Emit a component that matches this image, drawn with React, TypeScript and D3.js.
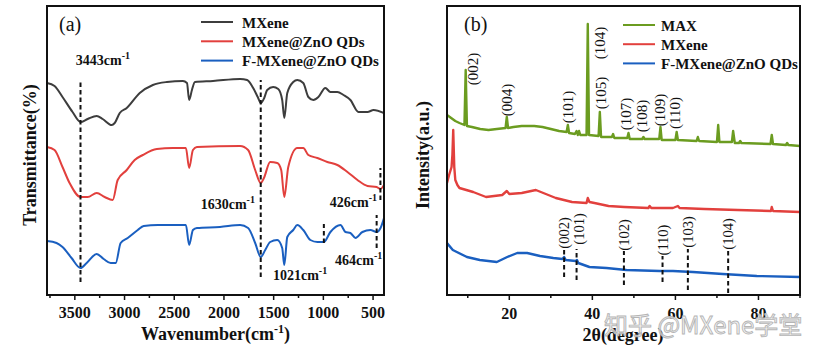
import React from 'react';
import * as d3 from 'd3';

type P = [number, number];

// ---------- Panel (a): FTIR (wavenumber cm-1, transmittance a.u.) ----------
const ftirMXene: P[] = [[3780,212],[3704,209],[3624,198],[3523,183],[3443,173],[3371,176],[3280,179],[3220,176],[3129,170],[3099,172],[3048,182],[2978,187],[2847,202],[2715,210],[2574,213],[2413,214],[2372,212],[2350,195],[2322,205],[2292,213],[2110,214],[1837,216],[1767,215],[1706,207],[1660,198],[1630,192],[1595,197],[1565,205],[1505,208],[1454,206],[1414,195],[1393,177],[1363,202],[1303,213],[1262,215],[1202,212],[1151,198],[1101,195],[1050,198],[980,207],[929,203],[859,203],[798,200],[728,195],[647,183],[556,183],[495,185],[390,182]];
const ftirMXeneZnO: P[] = [[3780,148],[3704,145],[3624,128],[3553,112],[3443,98],[3371,98],[3280,102],[3200,98],[3119,95],[3069,115],[2978,125],[2898,135],[2817,140],[2675,146],[2514,147],[2383,147],[2350,127],[2312,145],[2272,148],[1837,149],[1757,145],[1686,125],[1630,112],[1598,117],[1535,133],[1464,132],[1424,125],[1393,98],[1353,128],[1262,147],[1202,147],[1151,140],[1060,137],[960,133],[859,130],[758,123],[657,115],[556,109],[464,108],[426,106],[390,110]];
const ftirFMXeneZnO: P[] = [[3780,54],[3684,52],[3624,48],[3533,37],[3443,27],[3381,32],[3280,41],[3210,36],[3139,32],[3089,32],[3039,52],[2968,57],[2867,65],[2807,69],[2665,70],[2383,70],[2350,50],[2312,65],[2272,67],[2040,68],[1837,70],[1757,67],[1686,52],[1630,38],[1585,45],[1535,53],[1464,55],[1414,47],[1393,30],[1363,58],[1303,65],[1262,70],[1202,65],[1131,55],[1060,53],[995,53],[929,63],[828,70],[778,63],[728,62],[677,57],[607,63],[526,65],[464,63],[425,67],[390,77]];

const ftirNames = ['MXene', 'MXene@ZnO QDs', 'F-MXene@ZnO QDs'];
const ftirColors = ['#3d3d3d', '#e2403d', '#1a5fc0'];

// dashed markers: wavenumber, from, to (a.u.)
const ftirMarkX = [3443, 1630, 995, 464, 426];
const ftirMarkY0 = [13, 18, 52, 47, 95];
const ftirMarkY1 = [215, 215, 71, 80, 127];

// annotation labels
const ftirAnnNum = ['3443', '1630', '426', '1021', '464'];
const ftirAnnX = [3217, 1688, 460, 1507, 883];
const ftirAnnY = [230, 86, 88, 15, 30];
const ftirAnnAnchor = ['middle', 'end', 'end', 'start', 'start'];

const ftirMajor = [3500, 3000, 2500, 2000, 1500, 1000, 500];
const ftirMinor = [3750, 3250, 2750, 2250, 1750, 1250, 750];

// ---------- Panel (b): XRD (2θ degree, intensity a.u.) ----------
const xrdMAX: P[] = [[5,180],[6,177],[7,174],[8,172],[9.2,170],[9.5,225],[9.8,169],[11,168],[13,166],[15,165],[17,166],[19.1,167],[19.4,178],[19.7,167],[21,168],[23,169],[26,169],[28,168],[30,166],[32,164],[33.8,163],[34.1,170],[34.4,162],[35.8,161],[36.2,164],[36.5,160],[36.8,164],[37.1,160],[38.6,160],[38.9,271],[39.2,160],[41.5,159],[41.8,183],[42.1,158],[44.7,158],[45,161],[45.3,157],[48.4,157],[48.7,162],[49,156],[52,156],[52.3,158],[52.6,156],[56.1,156],[56.4,168],[56.7,155],[60,155],[60.3,163],[60.6,155],[65.1,154],[65.4,158],[65.7,154],[70,153],[70.3,170],[70.6,153],[73.6,153],[73.9,164],[74.3,152],[75.3,152],[75.6,154],[75.9,152],[82.9,151],[83.2,160],[83.5,151],[86.6,150],[86.9,152],[87.2,150],[90,149]];
const xrdMXene: P[] = [[5,112],[5.5,120],[6.1,128],[6.3,140],[6.5,165],[6.75,128],[7,115],[7.5,110],[8,107],[11.3,103],[14.4,98],[18.3,100],[19.4,104],[20,101],[23,102],[26.4,105],[28.8,101],[31.2,97],[35.1,93],[38.6,92],[38.9,97],[39.3,93],[40.5,92],[43.9,89],[47.7,88],[53.5,87],[53.8,89],[54.2,87],[59.4,87],[60.6,89],[61,87],[67,86],[75,85],[83,84],[83.2,88],[83.5,84],[90,83]];
const xrdFMXene: P[] = [[5,52],[6.4,45],[9.8,38],[12.9,35],[17,33],[19.5,38],[21.9,42],[24.3,42],[27.4,39],[30.6,37],[32.8,36],[33.2,38],[33.6,35],[36,34],[36.3,35],[36.6,32],[39.3,28],[43.4,27],[48.2,25],[56.2,24],[59.4,24],[64.2,23],[71.4,21],[79.6,19],[90,18]];

const xrdNames = ['MAX', 'MXene', 'F-MXene@ZnO QDs'];
const xrdColors = ['#6b9c20', '#e2403d', '#1a5fc0'];

// MAX peak labels
const maxLabels = ['(002)', '(004)', '(101)', '(104)', '(105)', '(107)', '(108)', '(109)', '(110)'];
const maxLabelX = [11.3, 19.4, 34.2, 41.8, 42.2, 48.0, 51.9, 56.2, 59.9];
const maxLabelY = [226, 195, 188, 252, 202, 181, 179, 185, 182];

// ZnO markers
const znoLabels = ['(002)', '(101)', '(102)', '(110)', '(103)', '(104)'];
const znoX = [33.2, 36.2, 47.6, 56.9, 63.0, 72.7];
const znoLabelX = [33.2, 36.7, 47.6, 56.9, 63.0, 72.7];
const znoLabelY = [62, 66, 60, 55, 63, 61];
const znoY0 = [18, 15, 10, 13, 5, 2];
const znoY1 = [47, 46, 44, 39, 46, 44];

const xrdMajor = [20, 40, 60, 80];
const xrdMinor = [10, 30, 50, 70, 90];

const SERIF = '"Liberation Serif", "Times New Roman", serif';

export default function App() {
  const top = 6, bottom = 295;
  const xA = d3.scaleLinear().domain([3780, 390]).range([47, 384]);
  const xB = d3.scaleLinear().domain([5, 90]).range([447, 800]);
  const y = d3.scaleLinear().domain([0, 289]).range([bottom, top]);

  const lineA = d3.line<P>().x(d => xA(d[0])).y(d => y(d[1])).curve(d3.curveMonotoneX);
  const lineB = d3.line<P>().x(d => xB(d[0])).y(d => y(d[1]));

  const ftirSeries = [ftirMXene, ftirMXeneZnO, ftirFMXeneZnO];
  const xrdSeries = [xrdMAX, xrdMXene, xrdFMXene];

  const dash = '4.5,3';

  return (
    <svg width={830} height={358} style={{ position: 'absolute', left: 0, top: 0, background: '#fff' }} fontFamily={SERIF}>
      <rect x={0} y={0} width={830} height={358} fill="#fff" />
      <defs>
        <clipPath id="clipA"><rect x={47} y={top} width={337} height={bottom - top} /></clipPath>
        <clipPath id="clipB"><rect x={447} y={top} width={353} height={bottom - top} /></clipPath>
      </defs>
      {/* ---------- Panel a ---------- */}
      <g clipPath="url(#clipA)">
        {ftirSeries.map((s, i) => (
          <path key={i} d={lineA(s) || ''} fill="none" stroke={ftirColors[i]} strokeWidth={2} strokeLinejoin="round" />
        ))}
      </g>
      {ftirMarkX.map((w, i) => (
        <line key={i} x1={xA(w)} x2={xA(w)} y1={y(ftirMarkY0[i])} y2={y(ftirMarkY1[i])} stroke="#111" strokeWidth={2} strokeDasharray={dash} />
      ))}
      {ftirAnnNum.map((t, i) => (
        <text key={i} x={xA(ftirAnnX[i])} y={y(ftirAnnY[i])} textAnchor={ftirAnnAnchor[i] as any} fontSize={14} fontWeight="bold" fill="#111">
          {t}cm<tspan fontSize={10} dy={-6}>-1</tspan>
        </text>
      ))}
      <rect x={47} y={top} width={337} height={bottom - top} fill="none" stroke="#111" strokeWidth={2} />
      {ftirMajor.map(v => (
        <g key={v}>
          <line x1={xA(v)} x2={xA(v)} y1={bottom} y2={bottom + 5} stroke="#111" strokeWidth={1.5} />
          <text x={xA(v)} y={318} textAnchor="middle" fontSize={16} fontWeight="bold" fill="#111">{v}</text>
        </g>
      ))}
      {ftirMinor.map(v => (
        <line key={v} x1={xA(v)} x2={xA(v)} y1={bottom} y2={bottom + 3} stroke="#111" strokeWidth={1.5} />
      ))}
      <text x={215.5} y={340} textAnchor="middle" fontSize={18} fontWeight="bold" fill="#111">
        Wavenumber(cm<tspan fontSize={12} dy={-7}>-1</tspan><tspan dy={7}>)</tspan>
      </text>
      <text transform="translate(36,155) rotate(-90)" textAnchor="middle" fontSize={18} fontWeight="bold" fill="#111">Transmittance(%)</text>
      <text x={59} y={31} fontSize={20} fill="#111">(a)</text>
      {ftirNames.map((n, i) => (
        <g key={n}>
          <line x1={201} x2={233} y1={22 + i * 19.3} y2={22 + i * 19.3} stroke={ftirColors[i]} strokeWidth={2} />
          <text x={242} y={27.5 + i * 19.3} fontSize={15} fontWeight="bold" fill="#111">{n}</text>
        </g>
      ))}

      {/* ---------- Panel b ---------- */}
      <g clipPath="url(#clipB)">
        {xrdSeries.map((s, i) => (
          <path key={i} d={lineB(s) || ''} fill="none" stroke={xrdColors[i]} strokeWidth={2.4} strokeLinejoin="round" />
        ))}
      </g>
      {maxLabels.map((t, i) => (
        <text key={i} transform={`translate(${xB(maxLabelX[i])},${y(maxLabelY[i])}) rotate(-90)`} textAnchor="middle" dominantBaseline="central" fontSize={15} fill="#111">{t}</text>
      ))}
      {znoX.map((v, i) => (
        <line key={i} x1={xB(v)} x2={xB(v)} y1={y(znoY0[i])} y2={y(znoY1[i])} stroke="#111" strokeWidth={2} strokeDasharray={dash} />
      ))}
      {znoLabels.map((t, i) => (
        <text key={i} transform={`translate(${xB(znoLabelX[i])},${y(znoLabelY[i])}) rotate(-90)`} textAnchor="middle" dominantBaseline="central" fontSize={14.5} fill="#111">{t}</text>
      ))}
      <rect x={447} y={top} width={353} height={bottom - top} fill="none" stroke="#111" strokeWidth={2} />
      {xrdMajor.map(v => (
        <g key={v}>
          <line x1={xB(v)} x2={xB(v)} y1={bottom} y2={bottom + 5} stroke="#111" strokeWidth={1.5} />
          <text x={xB(v)} y={319} textAnchor="middle" fontSize={16} fontWeight="bold" fill="#111">{v}</text>
        </g>
      ))}
      {xrdMinor.map(v => (
        <line key={v} x1={xB(v)} x2={xB(v)} y1={bottom} y2={bottom + 3} stroke="#111" strokeWidth={1.5} />
      ))}
      <text x={623} y={341} textAnchor="middle" fontSize={18} fontWeight="bold" fill="#111">2θ(degree)</text>
      <text transform="translate(429,155) rotate(-90)" textAnchor="middle" fontSize={18} fontWeight="bold" fill="#111">Intensity(a.u.)</text>
      <text x={464} y={31} fontSize={20} fill="#111">(b)</text>
      {xrdNames.map((n, i) => (
        <g key={n}>
          <line x1={623} x2={655} y1={25 + i * 19.2} y2={25 + i * 19.2} stroke={xrdColors[i]} strokeWidth={2} />
          <text x={661} y={30.5 + i * 19.2} fontSize={15} fontWeight="bold" fill="#111">{n}</text>
        </g>
      ))}

      {/* watermark */}
      <text x={604} y={334} fontSize={24} fontFamily='"Noto Sans CJK SC", sans-serif' fill="#f4f4f4" fillOpacity={0.75} stroke="#b5b5b5" strokeWidth={0.9}>知乎 @MXene学堂</text>
    </svg>
  );
}
